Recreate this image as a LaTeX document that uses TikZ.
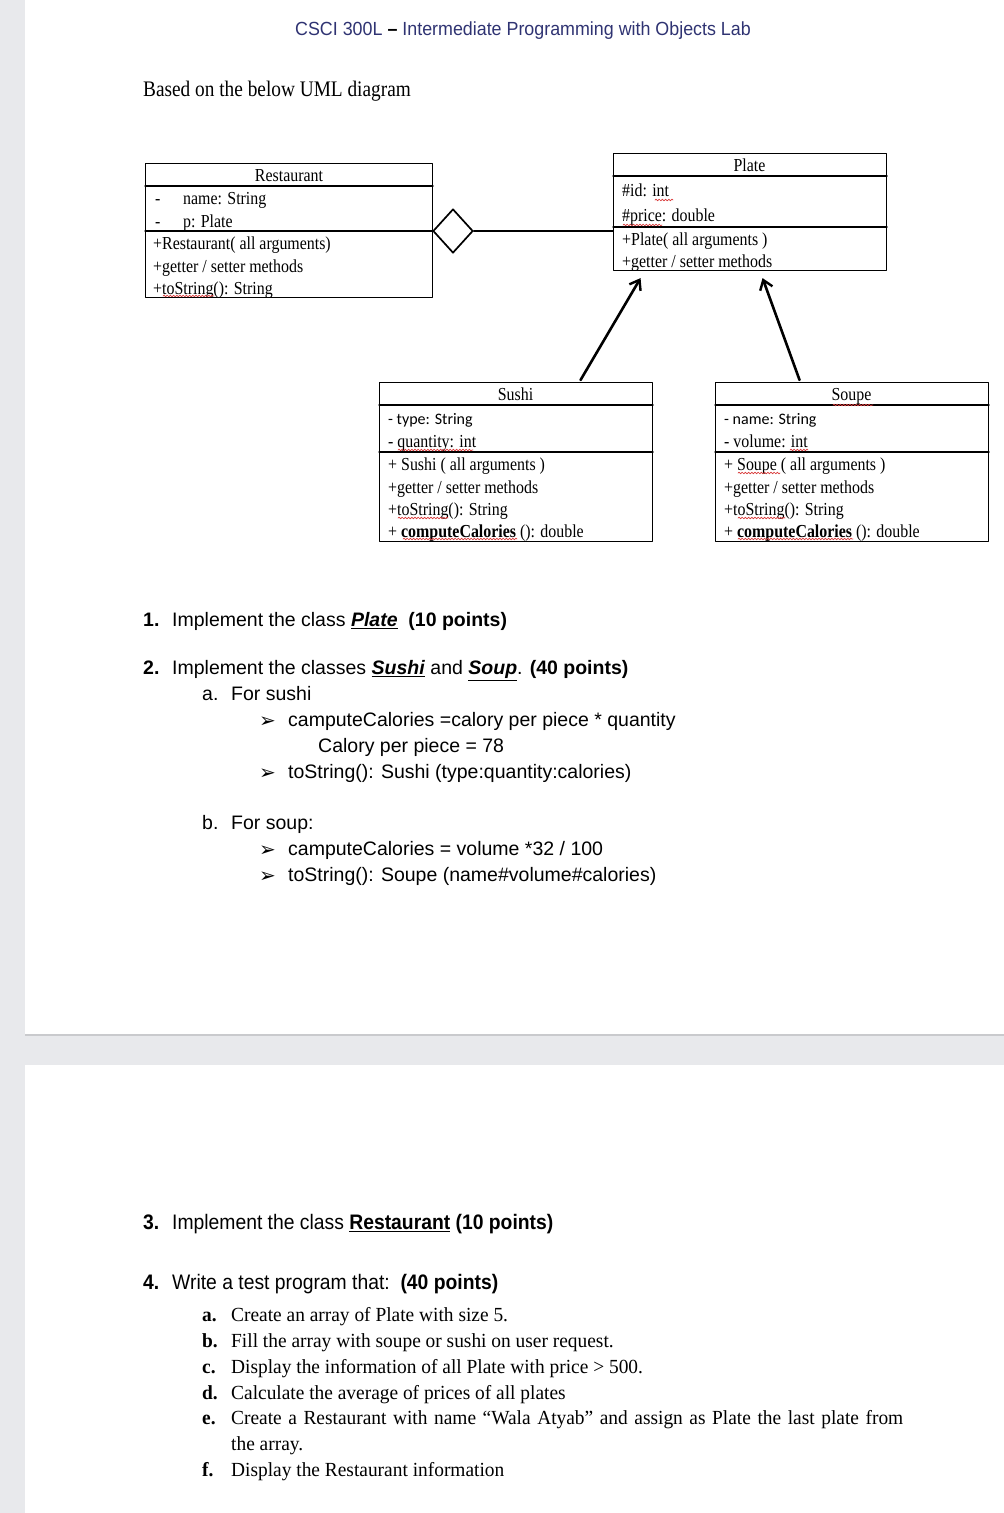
\documentclass[tikz,border=0pt]{standalone}
\usepackage{fontspec}
\setmainfont{Liberation Serif}
\setsansfont{Liberation Sans}
\newfontfamily\calfont{Carlito}
\newfontfamily\dingfont{DejaVu Sans}
\newfontfamily\narrowserif{Liberation Serif}[FakeStretch=0.87]
\newfontfamily\stepserif{Liberation Serif}[FakeStretch=0.97]
\newfontfamily\narrowsans{Liberation Sans}[FakeStretch=0.92]
\newfontfamily\titlesans{Liberation Sans}[FakeStretch=0.94]
\usepackage{tikz}
\usetikzlibrary{arrows.meta, positioning, shapes.geometric, decorations.pathmorphing}
\definecolor{pggray}{HTML}{E8E9EC}
\definecolor{pgshade}{HTML}{C9CACD}
\definecolor{hdblue}{HTML}{2F3372}
\definecolor{spellred}{HTML}{D83A3A}
\newcommand{\umlfont}{\narrowserif\fontsize{18.3}{20}\selectfont}
\newcommand{\calsz}{\calfont\fontsize{16}{18}\selectfont}
\newcommand{\tasksz}{\sffamily\fontsize{19.5}{23}\selectfont}
\newcommand{\narrowsz}{\narrowsans\fontsize{21}{24}\selectfont}
\newcommand{\stepsz}{\stepserif\fontsize{20}{24}\selectfont}
\newcommand{\pointer}{{\dingfont\fontsize{20}{22}\selectfont ➢}}

\begin{document}
\begin{tikzpicture}[
  x=1pt, y=-1pt,
  line cap=round, line join=round,
  umlbox/.style={draw, line width=1.1pt, inner sep=0pt, anchor=north west},
  umlhead/.style={font=\umlfont, inner sep=0pt, anchor=base},
  umlmem/.style={font=\umlfont, inner sep=0pt, anchor=base west},
  calmem/.style={font=\calsz, inner sep=0pt, anchor=base west},
  task/.style={font=\tasksz, inner sep=0pt, anchor=base west},
  ntask/.style={font=\narrowsz, inner sep=0pt, anchor=base west},
  substep/.style={font=\stepsz, inner sep=0pt, anchor=base west},
  inherit/.style={-{Straight Barb[length=9pt, width=13pt, line width=2.4pt]}, line width=2.6pt},
  squig/.style={draw=spellred, line width=0.7pt, decorate,
                decoration={snake, amplitude=0.8pt, segment length=3.2pt}},
]
\useasboundingbox (0,0) rectangle (1004,1513);

% ----- page background -----
\fill[pggray] (0,0) rectangle (25,1513);
\fill[pggray] (25,1034) rectangle (1004,1065);
\draw[pgshade, line width=1.6pt, line cap=butt] (25,1035) -- (1004,1035);

% ----- heading -----
\node[font=\titlesans\fontsize{19}{22}\selectfont, text=hdblue, inner sep=0pt, anchor=base]
  (title) at (523,35.5) {CSCI 300L \textcolor{black}{\textbf{–}} Intermediate Programming with Objects Lab};
\node[font=\narrowserif\fontsize{22.2}{26}\selectfont, inner sep=0pt, anchor=base west]
  (intro) at (143,96) {Based on the below UML diagram};

% ----- Restaurant -----
\node[umlbox, minimum width=287pt, minimum height=134pt] (rest) at (145,163) {};
\draw[line width=1.1pt] ([yshift=-23pt]rest.north west) -- ([yshift=-23pt]rest.north east);
\draw[line width=1.1pt] ([yshift=-68pt]rest.north west) -- ([yshift=-68pt]rest.north east);
\node[umlhead] (resthd) at (289,181) {Restaurant};
\node[umlmem] (rdash1) at (155,204) {-};
\node[umlmem] (rname) at (183,204) {name: String};
\node[umlmem] (rdash2) at (155,227) {-};
\node[umlmem] (rplate) at (183,227) {p: Plate};
\node[umlmem] (rctor) at (153,249) {+Restaurant( all arguments)};
\node[umlmem] (rget) at (153,272) {+getter / setter methods};
\node[umlmem] (rstr) at (153,294) {+toString(): String};

% ----- Plate -----
\node[umlbox, minimum width=273pt, minimum height=117pt] (plate) at (613,153) {};
\draw[line width=1.1pt] ([yshift=-23pt]plate.north west) -- ([yshift=-23pt]plate.north east);
\draw[line width=1.1pt] ([yshift=-74pt]plate.north west) -- ([yshift=-74pt]plate.north east);
\node[umlhead] (platehd) at (749.5,171) {Plate};
\node[umlmem] (pid) at (622,196) {\#id: int};
\node[umlmem] (pprice) at (622,221) {\#price: double};
\node[umlmem] (pctor) at (622,245) {+Plate( all arguments )};
\node[umlmem] (pget) at (622,267) {+getter / setter methods};

% ----- Sushi -----
\node[umlbox, minimum width=273pt, minimum height=159pt] (sushi) at (379,382) {};
\draw[line width=1.1pt] ([yshift=-23pt]sushi.north west) -- ([yshift=-23pt]sushi.north east);
\draw[line width=1.1pt] ([yshift=-70pt]sushi.north west) -- ([yshift=-70pt]sushi.north east);
\node[umlhead] (sushihd) at (515.5,400) {Sushi};
\node[calmem] (stype) at (388,424) {- type: String};
\node[umlmem] (sqty) at (388,447) {- quantity: int};
\node[umlmem] (sctor) at (388,470) {+ Sushi ( all arguments )};
\node[umlmem] (sget) at (388,493) {+getter / setter methods};
\node[umlmem] (sstr) at (388,515) {+toString(): String};
\node[umlmem] (scal) at (388,537) {+ \textbf{computeCalories} (): double};

% ----- Soupe -----
\node[umlbox, minimum width=273pt, minimum height=159pt] (soupe) at (715,382) {};
\draw[line width=1.1pt] ([yshift=-23pt]soupe.north west) -- ([yshift=-23pt]soupe.north east);
\draw[line width=1.1pt] ([yshift=-70pt]soupe.north west) -- ([yshift=-70pt]soupe.north east);
\node[umlhead] (soupehd) at (851.5,400) {Soupe};
\node[calmem] (oname) at (724,424) {- name: String};
\node[umlmem] (ovol) at (724,447) {- volume: int};
\node[umlmem] (octor) at (724,470) {+ Soupe ( all arguments )};
\node[umlmem] (oget) at (724,493) {+getter / setter methods};
\node[umlmem] (ostr) at (724,515) {+toString(): String};
\node[umlmem] (ocal) at (724,537) {+ \textbf{computeCalories} (): double};

% ----- relations -----
\node[diamond, draw, line width=1.7pt, fill=white, inner sep=0pt,
      minimum width=40pt, minimum height=44pt] (agg) at (453,231) {};
\draw[line width=1.7pt] (agg.east) -- (agg.east -| plate.west);
\draw[inherit] ([shift={(64.5,-2)}]sushi.north) -- ([shift={(-109.5,7)}]plate.south);
\draw[inherit] ([shift={(-52.5,-2)}]soupe.north) -- ([shift={(12.5,7)}]plate.south);

% spell-check marks
\draw[squig] (655,200) -- (673,200);
\draw[squig] (623,225) -- (662,225);
\draw[squig] (163,296) -- (214,296);
\draw[squig] (398,450) -- (473,450);
\draw[squig] (398,518) -- (448,518);
\draw[squig] (403,539) -- (517,539);
\draw[squig] (833,405) -- (873,405);
\draw[squig] (790,450) -- (808,450);
\draw[squig] (738,473) -- (780,473);
\draw[squig] (738,518) -- (785,518);
\draw[squig] (738,539) -- (853,539);

% ----- questions 1 and 2 -----
\node[task] (q1n) at (143,626.5) {\textbf{1.}};
\node[task] (q1) at (172,626.5)
  {Implement the class \underline{\textbf{\textit{Plate}}}\ \ \textbf{(10 points)}};
\node[task] (q2n) at (143,674.5) {\textbf{2.}};
\node[task] (q2) at (172,674.5)
  {Implement the classes \underline{\textbf{\textit{Sushi}}} and \underline{\textbf{\textit{Soup}}}. \textbf{(40 points)}};
\node[task] (q2a) at (202,700.5) {a.};
\node[task] (q2at) at (231,700.5) {For sushi};
\node[task] (q2a1b) at (259,727) {\pointer};
\node[task] (q2a1) at (288,726.5) {camputeCalories =calory per piece * quantity};
\node[task] (q2a2) at (318,752.5) {Calory per piece = 78};
\node[task] (q2a3b) at (259,779) {\pointer};
\node[task] (q2a3) at (288,778.5) {toString(): Sushi (type:quantity:calories)};
\node[task] (q2b) at (202,829.5) {b.};
\node[task] (q2bt) at (231,829.5) {For soup:};
\node[task] (q2b1b) at (259,856) {\pointer};
\node[task] (q2b1) at (288,855.5) {camputeCalories = volume *32 / 100};
\node[task] (q2b2b) at (259,882) {\pointer};
\node[task] (q2b2) at (288,881.5) {toString(): Soupe (name\#volume\#calories)};

% ----- questions 3 and 4 -----
\node[ntask] (q3n) at (143,1229.5) {\textbf{3.}};
\node[ntask] (q3) at (172,1229.5)
  {Implement the class \underline{\textbf{Restaurant}} \textbf{(10 points)}};
\node[ntask] (q4n) at (143,1289.5) {\textbf{4.}};
\node[ntask] (q4) at (172,1289.5) {Write a test program that:\ \ \textbf{(40 points)}};
\node[substep] (q4a) at (202,1321.6) {\textbf{a.}};
\node[substep] (q4at) at (231,1321.6) {Create an array of Plate with size 5.};
\node[substep] (q4b) at (202,1347.6) {\textbf{b.}};
\node[substep] (q4bt) at (231,1347.6) {Fill the array with soupe or sushi on user request.};
\node[substep] (q4c) at (202,1373.6) {\textbf{c.}};
\node[substep] (q4ct) at (231,1373.6) {Display the information of all Plate with price > 500.};
\node[substep] (q4d) at (202,1399.6) {\textbf{d.}};
\node[substep] (q4dt) at (231,1399.6) {Calculate the average of prices of all plates};
\node[substep] (q4e) at (202,1424.6) {\textbf{e.}};
\node[substep] (q4et) at (231,1424.6)
  {\makebox[672pt][s]{Create a Restaurant with name “Wala Atyab” and assign as Plate the last plate from}};
\node[substep] (q4e2) at (231,1450.6) {the array.};
\node[substep] (q4f) at (202,1476.6) {\textbf{f.}};
\node[substep] (q4ft) at (231,1476.6) {Display the Restaurant information};
\end{tikzpicture}
\end{document}
